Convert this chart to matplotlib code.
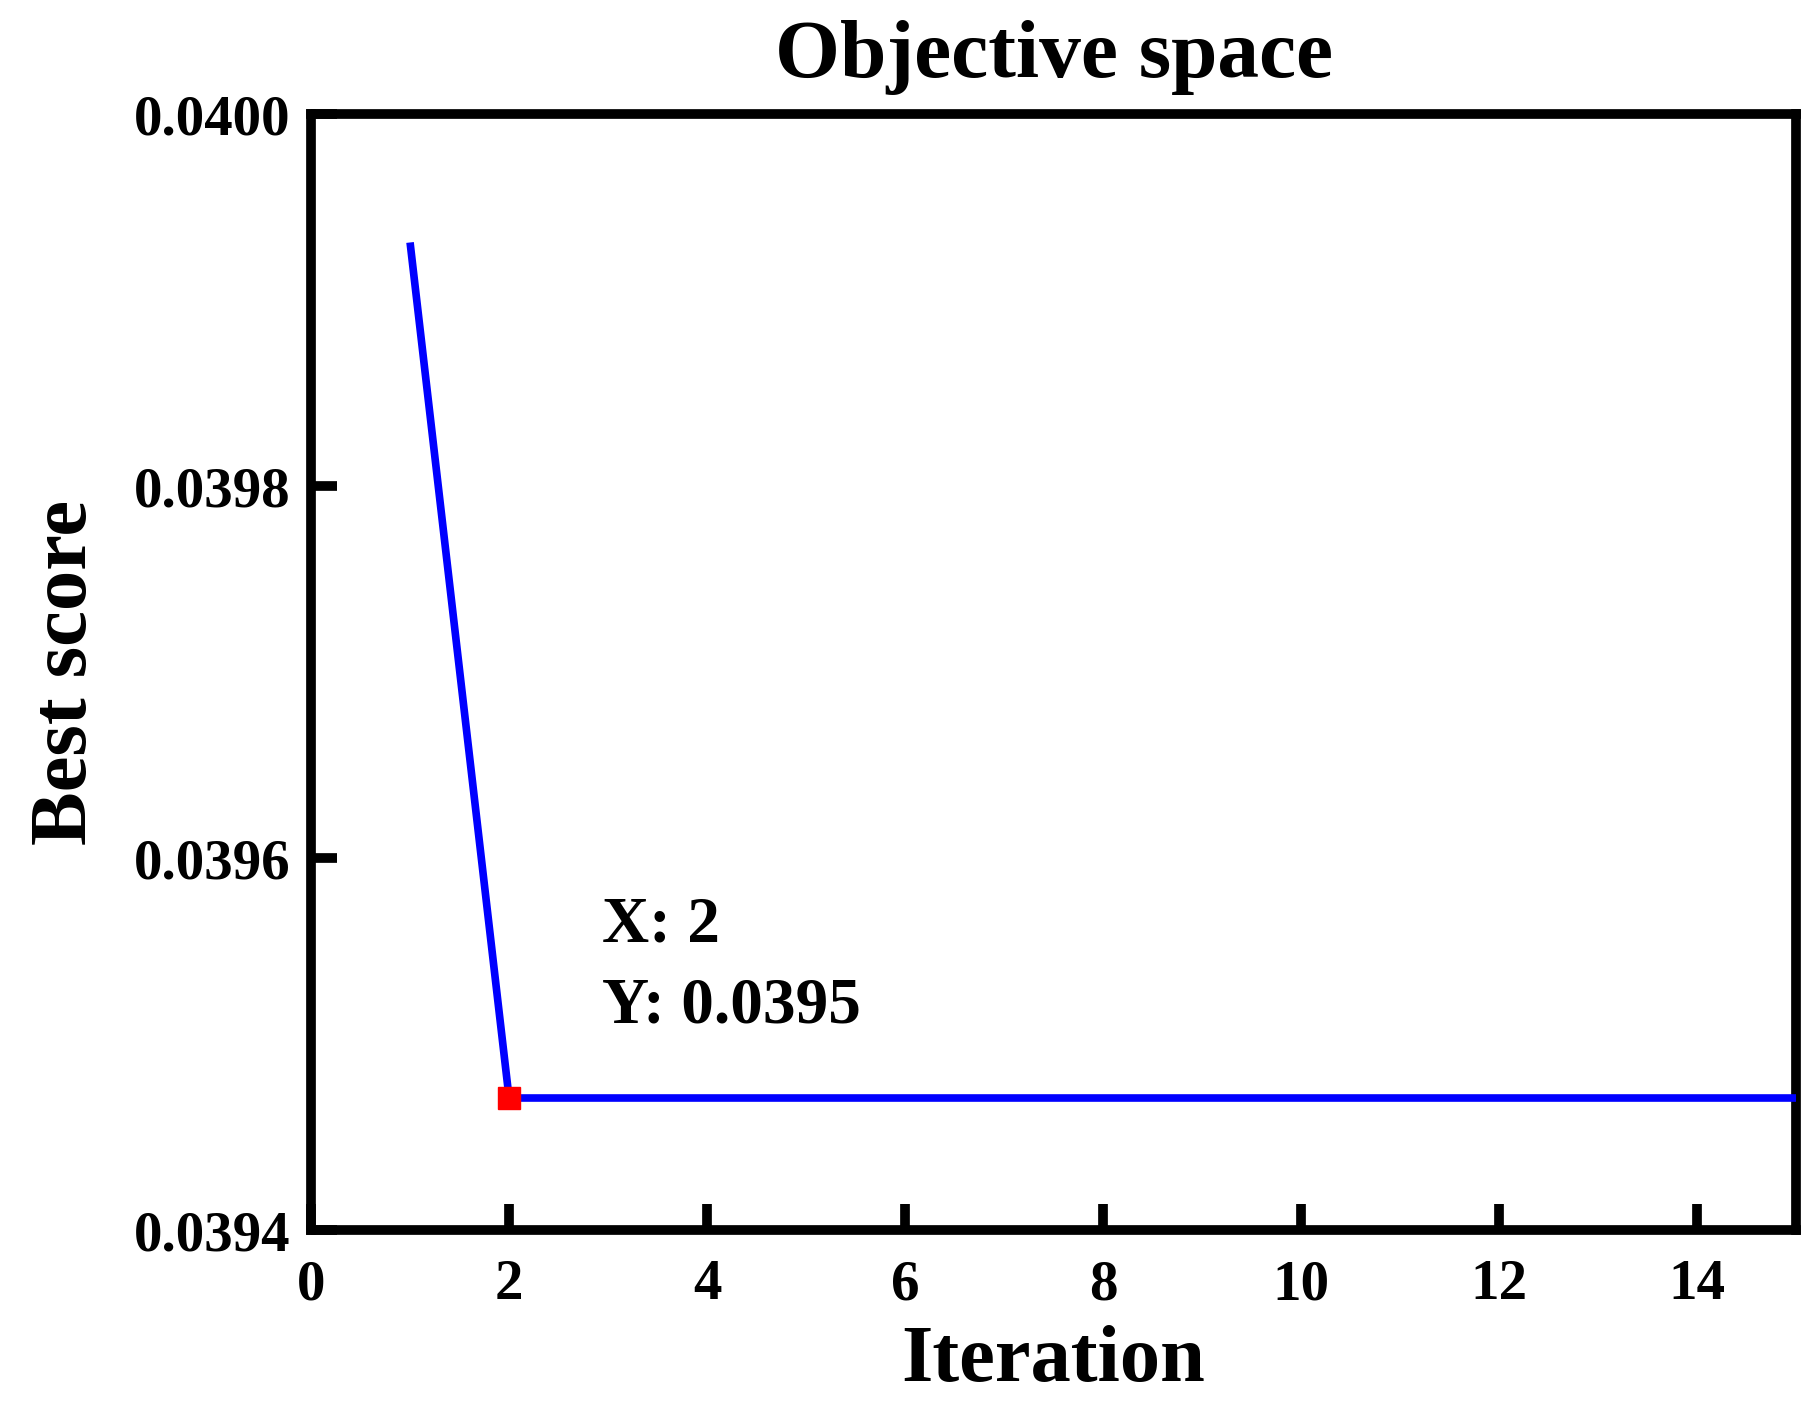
import matplotlib
matplotlib.use("Agg")
import matplotlib.pyplot as plt
from matplotlib.ticker import FormatStrFormatter

# Data
iterations = list(range(1, 16))
best_score = [0.039931] + [0.039471] * 14
tip_x = 2
tip_y = 0.039471
x_ticks = [0, 2, 4, 6, 8, 10, 12, 14]
y_ticks = [0.0394, 0.0396, 0.0398, 0.0400]

plt.rcParams['font.family'] = ['Liberation Serif', 'DejaVu Serif']
plt.rcParams['font.weight'] = 'bold'

fig = plt.figure(figsize=(18.19, 14.09), dpi=100)
ax = fig.add_axes([0.171, 0.127, 0.8165, 0.792])

ax.plot(iterations, best_score, color='#0000FF', linewidth=5.5, solid_capstyle='butt', zorder=3)
ax.plot([tip_x], [tip_y], marker='s', color='#FF0000', markersize=16, linestyle='none', zorder=4)

ax.annotate(f"X: {tip_x}", xy=(tip_x, tip_y), xytext=(93, 157), textcoords='offset pixels',
            fontsize=47, fontweight='bold', ha='left', va='baseline')
ax.annotate(f"Y: {tip_y:.4f}", xy=(tip_x, tip_y), xytext=(93, 76), textcoords='offset pixels',
            fontsize=47, fontweight='bold', ha='left', va='baseline')

ax.set_xlim(0, 15)
ax.set_ylim(0.0394, 0.0400)
ax.set_xticks(x_ticks)
ax.set_yticks(y_ticks)
ax.yaxis.set_major_formatter(FormatStrFormatter('%.4f'))

for s in ax.spines.values():
    s.set_linewidth(7)
    s.set_color('black')

ax.tick_params(axis='both', direction='in', length=19, width=7, top=False, right=False)
ax.tick_params(axis='y', labelsize=41, pad=15)
ax.tick_params(axis='x', labelsize=41, pad=21)
for lab in ax.get_xticklabels() + ax.get_yticklabels():
    lab.set_fontweight('bold')

ax.set_xlabel('Iteration', fontsize=58, fontweight='bold', labelpad=10)
ax.set_ylabel('Best score', fontsize=58, fontweight='bold', labelpad=22)
ax.set_title('Objective space', fontsize=60, fontweight='bold', pad=27)

fig.savefig('out.png', dpi=100)
